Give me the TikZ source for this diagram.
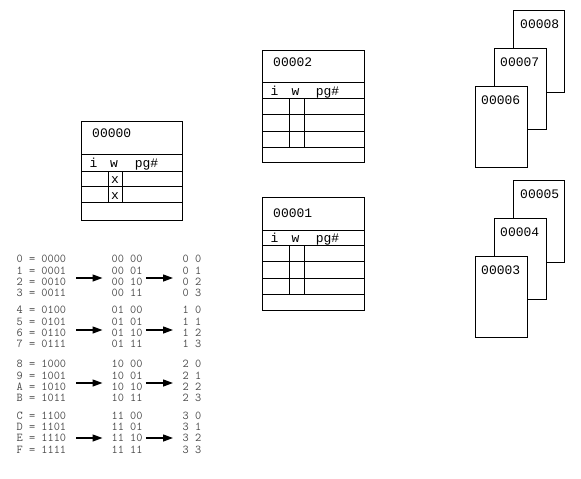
\documentclass[tikz,border=0pt]{standalone}
\usepackage{fontspec}
\newfontfamily\boxfont{Liberation Mono}
\usetikzlibrary{arrows.meta,calc}
\begin{document}
\begin{tikzpicture}[x=1pt,y=-1pt,
  lbl/.style={font=\boxfont\fontsize{13}{15}\selectfont, inner sep=0, anchor=base west},
  hdr/.style={font=\boxfont\fontsize{13}{15}\selectfont, inner sep=0, anchor=base},
  tbl/.style={font=\ttfamily\fontsize{12}{11.3}\selectfont, text=black!70, align=left, inner sep=0, anchor=west},
  arr/.style={-{Triangle[length=10pt,width=7pt]}, line width=1.3pt},
  ln/.style={line width=0.8pt},
  pg/.style={draw, fill=white, line width=0.8pt}]
\useasboundingbox (0,0) rectangle (581,479);

% ---- box 00000
\draw[ln] (81,121) rectangle (182,220);
\draw[ln] (81,154) -- (182,154) (81,171) -- (182,171) (81,186) -- (182,186) (81,202) -- (182,202);
\draw[ln] (108,171) -- (108,202) (122,171) -- (122,202);
\node[lbl] (t0) at (92,137) {00000};
\node[hdr] (i0) at (93.5,167) {i};
\node[hdr] (w0) at (114,167) {w};
\node[hdr] (p0) at (146.5,167) {pg\#};
\node[hdr] (x1) at (115,183) {x};
\node[hdr] (x2) at (115,199) {x};

% ---- box 00002
\draw[ln] (262,50) rectangle (364,162);
\draw[ln] (262,82) -- (364,82) (262,98) -- (364,98) (262,114) -- (364,114) (262,131) -- (364,131) (262,147) -- (364,147);
\draw[ln] (289,98) -- (289,147) (304,98) -- (304,147);
\node[lbl] (t2) at (273,66) {00002};
\node[hdr] (i2) at (274.5,95) {i};
\node[hdr] (w2) at (295.5,95) {w};
\node[hdr] (p2) at (327.5,95) {pg\#};

% ---- box 00001
\draw[ln] (262,197) rectangle (364,310);
\draw[ln] (262,230) -- (364,230) (262,245) -- (364,245) (262,261) -- (364,261) (262,278) -- (364,278) (262,294) -- (364,294);
\draw[ln] (289,245) -- (289,294) (304,245) -- (304,294);
\node[lbl] (t1) at (273,217) {00001};
\node[hdr] (i1) at (274.5,242.5) {i};
\node[hdr] (w1) at (295.5,242.5) {w};
\node[hdr] (p1) at (327.5,242.5) {pg\#};

% ---- page stacks
\draw[pg] (513,10) rectangle (564,92);
\node[lbl] (p8) at (520,28) {00008};
\draw[pg] (494,48) rectangle (546,129);
\node[lbl] (p7) at (500,66) {00007};
\draw[pg] (475,86) rectangle (527,167);
\node[lbl] (p6) at (481,104) {00006};

\draw[pg] (513,180) rectangle (564,262);
\node[lbl] (p5) at (520,198) {00005};
\draw[pg] (494,218) rectangle (546,299);
\node[lbl] (p4) at (500,236) {00004};
\draw[pg] (475,256) rectangle (527,337);
\node[lbl] (p3) at (481,274) {00003};

% ---- table
\node[tbl] (g1a) at (16.5,276) {0 = 0000\\1 = 0001\\2 = 0010\\3 = 0011};
\node[tbl] (g1b) at (111.5,276) {00 00\\00 01\\00 10\\00 11};
\node[tbl] (g1c) at (182.5,276) {0 0\\0 1\\0 2\\0 3};

\node[tbl] (g2a) at (16.5,327) {4 = 0100\\5 = 0101\\6 = 0110\\7 = 0111};
\node[tbl] (g2b) at (111.5,327) {01 00\\01 01\\01 10\\01 11};
\node[tbl] (g2c) at (182.5,327) {1 0\\1 1\\1 2\\1 3};

\node[tbl] (g3a) at (16.5,381) {8 = 1000\\9 = 1001\\A = 1010\\B = 1011};
\node[tbl] (g3b) at (111.5,381) {10 00\\10 01\\10 10\\10 11};
\node[tbl] (g3c) at (182.5,381) {2 0\\2 1\\2 2\\2 3};

\node[tbl] (g4a) at (16.5,432.5) {C = 1100\\D = 1101\\E = 1110\\F = 1111};
\node[tbl] (g4b) at (111.5,432.5) {11 00\\11 01\\11 10\\11 11};
\node[tbl] (g4c) at (182.5,432.5) {3 0\\3 1\\3 2\\3 3};

\foreach \g/\d in {1/2,2/3,3/2,4/5.5}{
  \draw[arr] ($(g\g a.east)+(10,\d)$) -- ($(g\g b.west)+(-9,\d)$);
  \draw[arr] ($(g\g b.east)+(3,\d)$) -- ($(g\g c.west)+(-9.5,\d)$);
}
\end{tikzpicture}
\end{document}
